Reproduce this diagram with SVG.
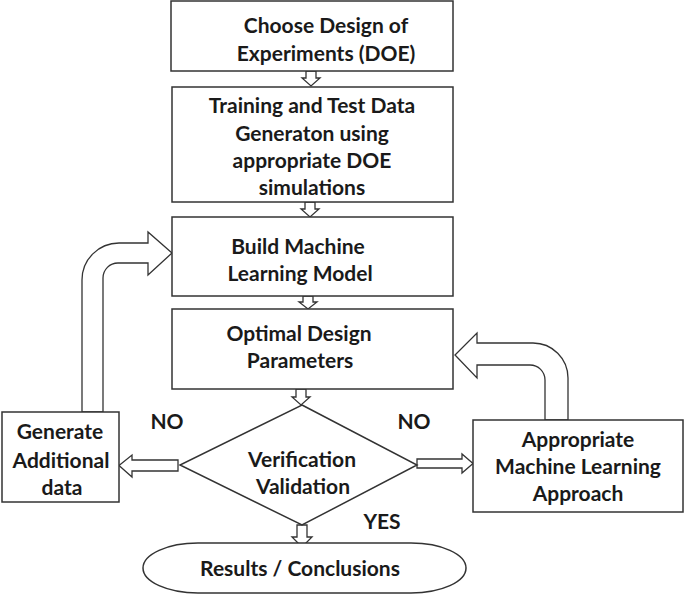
<svg xmlns="http://www.w3.org/2000/svg" width="685" height="596" viewBox="0 0 685 596">
<style>
.box{fill:#fff;stroke:#333;stroke-width:1.5}
.arr{fill:#fff;stroke:#333;stroke-width:1.3;stroke-linejoin:miter}
text{font-family:Lato,"Open Sans","Liberation Sans",sans-serif;font-weight:bold;font-size:21px;fill:#1a1a1a;text-anchor:middle}
</style>
<rect width="685" height="596" fill="#fff"/>
<g id="connectors">
<path class="arr" d="M306,71 H316 V78 H320 L311,86 L302,78 H306 Z"/>
<path class="arr" d="M305,202 H315 V209 H319 L310,217 L301,209 H305 Z"/>
<path class="arr" d="M303,296 H313 V302 H317 L308,309 L299,302 H303 Z"/>
<path class="arr" d="M296,389 H306 V397 H310 L301,405 L292,397 H296 Z"/>
<path class="arr" d="M297,525 H307 V537 H312 L302,547 L292,537 H297 Z"/>
<path class="arr" d="M178,460 H132 V455 L119,465.5 L132,477 V471 H178 Z"/>
<path class="arr" d="M417,459 H462 V454 L473,463.5 L462,473 V468 H417 Z"/>
<path class="arr" d="M82,412 V280 A37,37 0 0 1 119,243 H148 V232 L172,253 L148,275 V263 H118 A15,15 0 0 0 103,278 V412 Z"/>
<path class="arr" d="M568,420 V378 A35,35 0 0 0 533,343 H477 V333 L455,355 L477,378 V365 H530 A15,15 0 0 1 545,380 V420 Z"/>
</g>
<g id="node-doe">
<rect class="box" x="171" y="1" width="282" height="70"/>
<text x="326" y="33">Choose Design of</text>
<text x="326" y="61">Experiments (DOE)</text>
</g>
<g id="node-training">
<rect class="box" x="172" y="87" width="281" height="115"/>
<text x="312" y="113">Training and Test Data</text>
<text x="312" y="141">Generaton using</text>
<text x="312" y="168">appropriate DOE</text>
<text x="312" y="195">simulations</text>
</g>
<g id="node-build">
<rect class="box" x="172" y="217" width="281" height="79"/>
<text x="298" y="254">Build Machine</text>
<text x="300" y="281">Learning Model</text>
</g>
<g id="node-optimal">
<rect class="box" x="172" y="309" width="281" height="80"/>
<text x="299" y="341">Optimal Design</text>
<text x="300" y="368">Parameters</text>
</g>
<g id="node-verify">
<polygon class="box" points="302,405 417,465 302,525 180,465"/>
<text x="302" y="467">Verification</text>
<text x="303" y="494">Validation</text>
</g>
<g id="node-generate">
<rect class="box" x="2" y="412" width="117" height="90"/>
<text x="60" y="439">Generate</text>
<text x="61" y="468">Additional</text>
<text x="62" y="495">data</text>
</g>
<g id="node-approach">
<rect class="box" x="473" y="420" width="210" height="92"/>
<text x="578" y="447">Appropriate</text>
<text x="578" y="474">Machine Learning</text>
<text x="578" y="501">Approach</text>
</g>
<g id="node-results">
<rect class="box" x="143" y="543" width="323" height="50" rx="55" ry="25"/>
<text x="300" y="576">Results / Conclusions</text>
</g>
<g id="labels">
<text x="167" y="429">NO</text>
<text x="414" y="429">NO</text>
<text x="382" y="529">YES</text>
</g>
</svg>
